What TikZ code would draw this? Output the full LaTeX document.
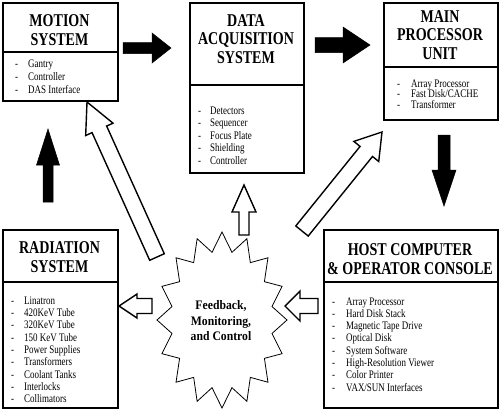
\documentclass[tikz,border=0pt]{standalone}
\usepackage{fontspec}
\setmainfont{Liberation Serif}[FakeStretch=0.78]
\newfontfamily\starfont{Liberation Serif}[FakeStretch=0.9]
\usetikzlibrary{calc}
\newcommand\blockarrow[7]{%
  \coordinate (#7) at ($(#3)!#6!(#2)$);
  \draw[#1] ($(#2)!#4!90:(#3)$) -- ($(#7)!#4!90:(#3)$) -- ($(#7)!#5!90:(#3)$) -- (#3)
    -- ($(#7)!#5!-90:(#3)$) -- ($(#7)!#4!-90:(#3)$) -- ($(#2)!#4!-90:(#3)$) -- cycle;
}
\tikzset{
  box/.style={draw, line width=1.5pt, inner sep=0pt, anchor=north west},
  ttl/.style={font=\bfseries\fontsize{18}{18.5}\selectfont, align=center, inner sep=0pt},
  itm/.style={font=\fontsize{11.5}{12}\selectfont, anchor=base west, inner sep=0pt},
  blk/.style={fill=black, draw=black, line width=0.5pt, line join=miter},
  hol/.style={draw=black, fill=white, line width=1.4pt, line join=miter},
  divider/.style={line width=1.5pt},
  starline/.style={draw=black, line width=0.8pt, fill=white, line join=miter}
}
\begin{document}
\begin{tikzpicture}[x=1pt,y=-1pt]
\useasboundingbox (0,0) rectangle (500,410);

% ---------- boxes ----------
\node[box, minimum width=115pt, minimum height=98pt] (mo) at (2,2) {};
\draw[divider] (mo.west |- 0,52) -- (mo.east |- 0,52);
\node[ttl] (mo-title) at (59.5,30) {MOTION\\SYSTEM};
\foreach \t [count=\i] in {Gantry,Controller,DAS Interface}{
  \node[itm] (mo-d\i) at (15,{67+13.2*(\i-1)}) {-};
  \node[itm] (mo-t\i) at (28,{67+13.2*(\i-1)}) {\t};
}

\node[box, minimum width=114pt, minimum height=170pt] (daq) at (189,2) {};
\draw[divider] (daq.west |- 0,85) -- (daq.east |- 0,85);
\node[ttl] (daq-title) at (246,39) {DATA\\ACQUISITION\\SYSTEM};
\foreach \t [count=\i] in {Detectors,Sequencer,Focus Plate,Shielding,Controller}{
  \node[itm] (daq-d\i) at (198,{114+12.5*(\i-1)}) {-};
  \node[itm] (daq-t\i) at (210,{114+12.5*(\i-1)}) {\t};
}

\node[box, minimum width=114pt, minimum height=117pt] (mp) at (383,2) {};
\draw[divider] (mp.west |- 0,67) -- (mp.east |- 0,67);
\node[ttl] (mp-title) at (440,35) {MAIN\\PROCESSOR\\UNIT};
\foreach \t [count=\i] in {Array Processor,Fast Disk/CACHE,Transformer}{
  \node[itm] (mp-d\i) at (397,{87+10.5*(\i-1)}) {-};
  \node[itm] (mp-t\i) at (411,{87+10.5*(\i-1)}) {\t};
}

\node[box, minimum width=115pt, minimum height=178pt] (rad) at (2,229) {};
\draw[divider] (rad.west |- 0,282) -- (rad.east |- 0,282);
\node[ttl] (rad-title) at (59.5,257) {RADIATION\\SYSTEM};
\foreach \t [count=\i] in {Linatron,420KeV Tube,320KeV Tube,150 KeV Tube,Power Supplies,Transformers,Coolant Tanks,Interlocks,Collimators}{
  \node[itm] (rad-d\i) at (11,{304+12.35*(\i-1)}) {-};
  \node[itm] (rad-t\i) at (24,{304+12.35*(\i-1)}) {\t};
}

\node[box, minimum width=174pt, minimum height=178pt] (host) at (323,229) {};
\draw[divider] (host.west |- 0,282) -- (host.east |- 0,282);
\node[ttl] (host-title) at (410,259) {HOST COMPUTER\\\&~OPERATOR CONSOLE};
\foreach \t [count=\i] in {Array Processor,Hard Disk Stack,Magnetic Tape Drive,Optical Disk,System Software,High-Resolution Viewer,Color Printer,VAX/SUN Interfaces}{
  \node[itm] (host-d\i) at (332,{305+12.3*(\i-1)}) {-};
  \node[itm] (host-t\i) at (346,{305+12.3*(\i-1)}) {\t};
}

% ---------- star ----------
\draw[starline] plot[variable=\k, samples at={0,1,...,31}]
  ({222+(65-14*mod(\k,2))*cos(90+11.25*\k)}, {320-(88-19*mod(\k,2))*sin(90+11.25*\k)}) -- cycle;
\node[font=\starfont\bfseries\fontsize{13}{15.5}\selectfont, align=center, inner sep=0pt] (fb) at (221,321)
  {Feedback,\\Monitoring,\\and Control};

% ---------- black arrows ----------
\coordinate (b1t) at (123,48); \coordinate (b1h) at (171,48);
\coordinate (b2t) at (315,45); \coordinate (b2h) at (370,45);
\coordinate (b3t) at (444,135); \coordinate (b3h) at (444,206);
\coordinate (b4t) at (48,202); \coordinate (b4h) at (48,129);
\blockarrow{blk}{b1t}{b1h}{5.5pt}{15pt}{19pt}{b1n}
\blockarrow{blk}{b2t}{b2h}{7.5pt}{18pt}{27pt}{b2n}
\blockarrow{blk}{b3t}{b3h}{6pt}{12pt}{36pt}{b3n}
\blockarrow{blk}{b4t}{b4h}{5pt}{11.5pt}{36pt}{b4n}

% ---------- hollow arrows ----------
\coordinate (h1t) at (157,257); \coordinate (h1h) at (87,102);
\coordinate (h2t) at (244,235); \coordinate (h2h) at (244,185);
\coordinate (h3t) at (302,231); \coordinate (h3h) at (382,132);
\coordinate (h4t) at (318,306); \coordinate (h4h) at (285,306);
\coordinate (h5t) at (152,306); \coordinate (h5h) at (119,306);
\blockarrow{hol}{h1t}{h1h}{8pt}{15pt}{30pt}{h1n}
\blockarrow{hol}{h2t}{h2h}{5pt}{12pt}{27pt}{h2n}
\blockarrow{hol}{h3t}{h3h}{8pt}{16pt}{25pt}{h3n}
\blockarrow{hol}{h4t}{h4h}{7.5pt}{15pt}{15pt}{h4n}
\blockarrow{hol}{h5t}{h5h}{7.5pt}{12pt}{18pt}{h5n}
\end{tikzpicture}
\end{document}
